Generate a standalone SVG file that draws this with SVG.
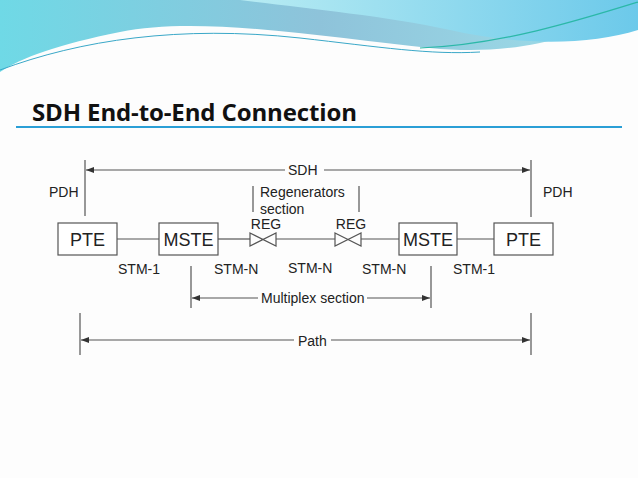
<svg xmlns="http://www.w3.org/2000/svg" width="638" height="478" viewBox="0 0 638 478">
<defs>
<style>
.t{font-family:"Liberation Sans",Arial,sans-serif;font-size:14px;fill:#222}
.b{font-family:"Liberation Sans",Arial,sans-serif;font-size:18px;fill:#222;text-anchor:middle}
.box{fill:#fff;stroke:#555;stroke-width:1.2}
.ln{stroke:#555;stroke-width:1.2;fill:none}
</style>
<marker id="a" markerWidth="8" markerHeight="6" refX="8" refY="3" orient="auto-start-reverse" markerUnits="userSpaceOnUse"><path d="M0,0L8,3L0,6z" fill="#333"/></marker>
<linearGradient id="g1" x1="0" y1="0" x2="1" y2="0"><stop offset="0" stop-color="#6fd9e6"/><stop offset="0.5" stop-color="#8ec3da"/><stop offset="1" stop-color="#9fe0ea"/></linearGradient>
<linearGradient id="g2" x1="0" y1="0" x2="1" y2="0"><stop offset="0" stop-color="#b8ecf3"/><stop offset="1" stop-color="#6cc9ea"/></linearGradient>
</defs>
<rect width="638" height="478" fill="#fdfdfd"/>
<g id="banner">
<path d="M0,0H638V10C560,45 500,55 430,48C330,38 200,15 120,32C60,44 20,58 0,72Z" fill="url(#g1)"/>
<path d="M240,0H638V30C590,45 520,46 450,30C380,15 300,8 240,0Z" fill="url(#g2)"/>
<path d="M0,70C80,40 180,25 300,38C380,47 430,55 480,52" stroke="#3aa8c8" stroke-width="1" fill="none"/>
<path d="M420,48C500,45 580,20 638,2" stroke="#2bb8a8" stroke-width="1.2" fill="none"/>
</g>
<g id="title">
<text x="32" y="121" font-family="Open Sans,'Noto Sans',sans-serif" font-size="24" font-weight="bold" fill="#111" textLength="325">SDH End-to-End Connection</text>
<line x1="16" y1="127" x2="622" y2="127" stroke="#2a9fd6" stroke-width="2"/>
</g>
<g id="connectors">
<line class="ln" x1="85" y1="160" x2="85" y2="216"/>
<line class="ln" x1="531" y1="160" x2="531" y2="217"/>
<line class="ln" x1="285" y1="170" x2="86" y2="170" marker-end="url(#a)"/>
<line class="ln" x1="324" y1="170" x2="530" y2="170" marker-end="url(#a)"/>
<line class="ln" x1="253" y1="186" x2="253" y2="212"/>
<line class="ln" x1="359" y1="186" x2="359" y2="212"/>
<line class="ln" x1="117" y1="239" x2="159" y2="239"/>
<line class="ln" x1="218" y1="239" x2="250" y2="239"/>
<line class="ln" x1="276" y1="239" x2="335" y2="239"/>
<line class="ln" x1="361" y1="239" x2="399" y2="239"/>
<line class="ln" x1="457" y1="239" x2="494" y2="239"/>
<line class="ln" x1="191" y1="266" x2="191" y2="308"/>
<line class="ln" x1="431" y1="266" x2="431" y2="308"/>
<line class="ln" x1="258" y1="298" x2="192" y2="298" marker-end="url(#a)"/>
<line class="ln" x1="367" y1="298" x2="430" y2="298" marker-end="url(#a)"/>
<line class="ln" x1="294" y1="340" x2="81" y2="340" marker-end="url(#a)"/>
<line class="ln" x1="331" y1="340" x2="530" y2="340" marker-end="url(#a)"/>
<line class="ln" x1="80" y1="313" x2="80" y2="355"/>
<line class="ln" x1="531" y1="313" x2="531" y2="355"/>
</g>
<g id="pte1"><rect class="box" x="58" y="223" width="59" height="32"/><text class="b" x="87.5" y="246">PTE</text></g>
<g id="mste1"><rect class="box" x="159" y="223" width="59" height="32"/><text class="b" x="188.5" y="246">MSTE</text></g>
<g id="reg1"><path class="ln" d="M250,233L276,246V233L250,246Z"/><text class="t" x="266" y="229" text-anchor="middle">REG</text></g>
<g id="reg2"><path class="ln" d="M335,233L361,246V233L335,246Z"/><text class="t" x="351" y="229" text-anchor="middle">REG</text></g>
<g id="mste2"><rect class="box" x="399" y="223" width="58" height="32"/><text class="b" x="428" y="246">MSTE</text></g>
<g id="pte2"><rect class="box" x="494" y="223" width="59" height="32"/><text class="b" x="523.5" y="246">PTE</text></g>
<g id="labels">
<text class="t" x="288" y="175">SDH</text>
<text class="t" x="49" y="197">PDH</text>
<text class="t" x="543" y="197">PDH</text>
<text class="t" x="260" y="197">Regenerators</text>
<text class="t" x="260" y="214">section</text>
<text class="t" x="118" y="274">STM-1</text>
<text class="t" x="214" y="274">STM-N</text>
<text class="t" x="288" y="273">STM-N</text>
<text class="t" x="362" y="274">STM-N</text>
<text class="t" x="453" y="274">STM-1</text>
<text class="t" x="261" y="303">Multiplex section</text>
<text class="t" x="298" y="346">Path</text>
</g>
</svg>
